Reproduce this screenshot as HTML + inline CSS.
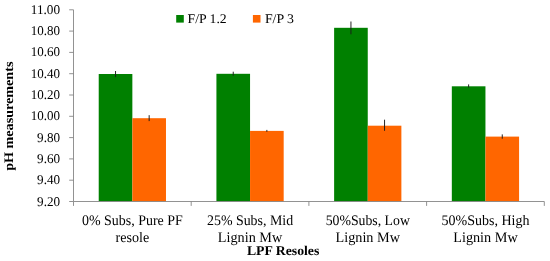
<!DOCTYPE html>
<html><head><meta charset="utf-8"><title>LPF Resoles pH</title>
<style>
html,body{margin:0;padding:0;background:#fff;}
svg{display:block;}
text{font-family:"Liberation Serif",serif;fill:#000;text-rendering:geometricPrecision;}
</style></head><body>
<svg width="550" height="261" viewBox="0 0 550 261">
<rect x="0" y="0" width="550" height="261" fill="#fff"/>
<rect x="98.72" y="74.00" width="33.63" height="127.50" fill="#008000"/>
<rect x="132.35" y="118.20" width="33.63" height="83.30" fill="#ff6600"/>
<rect x="216.42" y="73.80" width="33.63" height="127.70" fill="#008000"/>
<rect x="250.05" y="130.90" width="33.63" height="70.60" fill="#ff6600"/>
<rect x="334.12" y="27.80" width="33.63" height="173.70" fill="#008000"/>
<rect x="367.75" y="125.70" width="33.63" height="75.80" fill="#ff6600"/>
<rect x="451.82" y="86.30" width="33.63" height="115.20" fill="#008000"/>
<rect x="485.45" y="136.60" width="33.63" height="64.90" fill="#ff6600"/>
<g stroke="#868686" stroke-width="0.9" fill="none">
<line x1="73.5" y1="9.80" x2="73.5" y2="201.5"/>
<line x1="73.5" y1="201.5" x2="544.3" y2="201.5"/>
<line x1="69.20" y1="201.50" x2="73.5" y2="201.50"/>
<line x1="69.20" y1="180.20" x2="73.5" y2="180.20"/>
<line x1="69.20" y1="158.90" x2="73.5" y2="158.90"/>
<line x1="69.20" y1="137.60" x2="73.5" y2="137.60"/>
<line x1="69.20" y1="116.30" x2="73.5" y2="116.30"/>
<line x1="69.20" y1="95.00" x2="73.5" y2="95.00"/>
<line x1="69.20" y1="73.70" x2="73.5" y2="73.70"/>
<line x1="69.20" y1="52.40" x2="73.5" y2="52.40"/>
<line x1="69.20" y1="31.10" x2="73.5" y2="31.10"/>
<line x1="69.20" y1="9.80" x2="73.5" y2="9.80"/>
<line x1="73.50" y1="201.5" x2="73.50" y2="205.90"/>
<line x1="191.20" y1="201.5" x2="191.20" y2="205.90"/>
<line x1="308.90" y1="201.5" x2="308.90" y2="205.90"/>
<line x1="426.60" y1="201.5" x2="426.60" y2="205.90"/>
<line x1="544.30" y1="201.5" x2="544.30" y2="205.90"/>
</g>
<g stroke="#1a1a1a" stroke-width="0.95" fill="none">
<line x1="115.54" y1="71.00" x2="115.54" y2="77.10"/>
<line x1="149.16" y1="115.20" x2="149.16" y2="121.10"/>
<line x1="233.24" y1="71.70" x2="233.24" y2="75.70"/>
<line x1="266.86" y1="129.90" x2="266.86" y2="131.80"/>
<line x1="350.94" y1="21.50" x2="350.94" y2="34.30"/>
<line x1="384.56" y1="119.70" x2="384.56" y2="130.80"/>
<line x1="468.64" y1="84.40" x2="468.64" y2="87.50"/>
<line x1="502.26" y1="134.40" x2="502.26" y2="138.70"/>
</g>
<g font-size="13.4" text-anchor="end">
<text x="60.1" y="205.50" textLength="23.0" lengthAdjust="spacingAndGlyphs">9.20</text>
<text x="60.1" y="184.20" textLength="23.0" lengthAdjust="spacingAndGlyphs">9.40</text>
<text x="60.1" y="162.90" textLength="23.0" lengthAdjust="spacingAndGlyphs">9.60</text>
<text x="60.1" y="141.60" textLength="23.0" lengthAdjust="spacingAndGlyphs">9.80</text>
<text x="60.1" y="120.30" textLength="29.3" lengthAdjust="spacingAndGlyphs">10.00</text>
<text x="60.1" y="99.00" textLength="29.3" lengthAdjust="spacingAndGlyphs">10.20</text>
<text x="60.1" y="77.70" textLength="29.3" lengthAdjust="spacingAndGlyphs">10.40</text>
<text x="60.1" y="56.40" textLength="29.3" lengthAdjust="spacingAndGlyphs">10.60</text>
<text x="60.1" y="35.10" textLength="29.3" lengthAdjust="spacingAndGlyphs">10.80</text>
<text x="60.1" y="13.80" textLength="29.3" lengthAdjust="spacingAndGlyphs">11.00</text>
</g>
<rect x="176.2" y="15" width="7.6" height="7.6" fill="#008000"/>
<rect x="252.9" y="15" width="7.6" height="7.6" fill="#ff6600"/>
<g font-size="13.2">
<text x="187.5" y="22.7" textLength="39.2" lengthAdjust="spacingAndGlyphs">F/P 1.2</text>
<text x="264.9" y="22.7" textLength="29.1" lengthAdjust="spacingAndGlyphs">F/P 3</text>
</g>
<g font-size="14.6" text-anchor="middle">
<text x="132.35" y="224.9" textLength="100.8" lengthAdjust="spacingAndGlyphs">0% Subs, Pure PF</text>
<text x="132.35" y="242.2" textLength="33.8" lengthAdjust="spacingAndGlyphs">resole</text>
<text x="250.05" y="224.9" textLength="86.1" lengthAdjust="spacingAndGlyphs">25% Subs, Mid</text>
<text x="250.05" y="242.2" textLength="64.4" lengthAdjust="spacingAndGlyphs">Lignin Mw</text>
<text x="367.75" y="224.9" textLength="84.2" lengthAdjust="spacingAndGlyphs">50%Subs, Low</text>
<text x="367.75" y="242.2" textLength="64.4" lengthAdjust="spacingAndGlyphs">Lignin Mw</text>
<text x="485.45" y="224.9" textLength="87.9" lengthAdjust="spacingAndGlyphs">50%Subs, High</text>
<text x="485.45" y="242.2" textLength="64.4" lengthAdjust="spacingAndGlyphs">Lignin Mw</text>
</g>
<text x="246.9" y="254.5" font-size="13.5" font-weight="bold" textLength="72.4" lengthAdjust="spacingAndGlyphs">LPF Resoles</text>
<text transform="translate(12.9,170.8) rotate(-90)" font-size="13" font-weight="bold" textLength="109.2" lengthAdjust="spacingAndGlyphs">pH measurements</text>
</svg></body></html>
